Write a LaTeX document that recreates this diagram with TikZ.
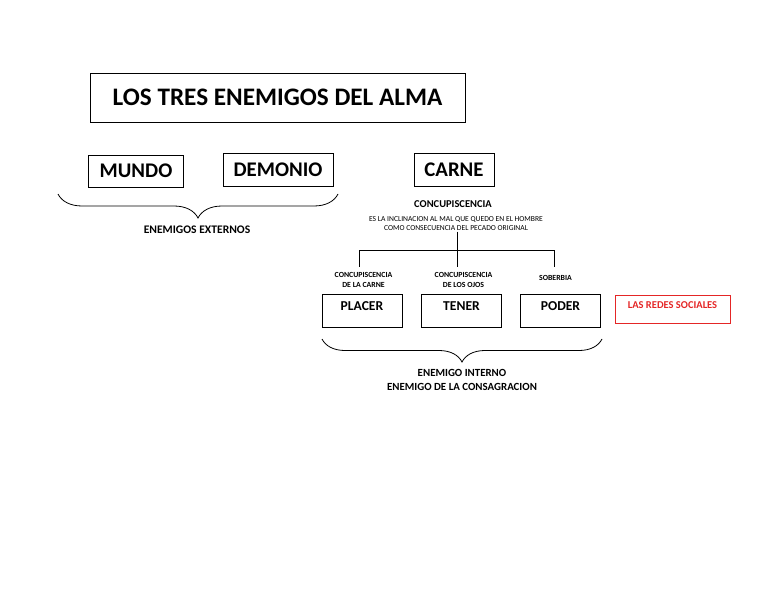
\documentclass[tikz,border=0pt]{standalone}
\usepackage{fontspec}
\setmainfont{Carlito}
\usetikzlibrary{positioning,decorations.pathreplacing}
\definecolor{redes}{RGB}{228,38,38}
\tikzstyle{titlebox}=[draw, line width=1pt, font=\bfseries\fontsize{25.2}{26}\selectfont]
\tikzstyle{enemy}=[draw, line width=1pt, font=\bfseries\fontsize{20.8}{21}\selectfont]
\tikzstyle{lowbox}=[draw, line width=1pt, minimum width=80, inner ysep=4, text height=12, text depth=13, font=\bfseries\fontsize{13.6}{14}\selectfont]
\tikzstyle{redbox}=[draw=redes, line width=1pt, text=redes, minimum width=115, inner ysep=4, text height=9, text depth=11, font=\bfseries\fontsize{10.5}{11}\selectfont]
\tikzstyle{caption}=[align=center, font=\bfseries\fontsize{10.9}{13.5}\selectfont]
\tikzstyle{tiny}=[align=center, inner sep=1, font=\bfseries\fontsize{7.8}{10}\selectfont]
\tikzstyle{brace}=[decorate, decoration={brace, mirror}, line width=0.8pt]
\tikzstyle{tree}=[line width=0.9pt]

\begin{document}
\begin{tikzpicture}[x=1pt, y=-1pt]
  \useasboundingbox (0,0) rectangle (768,594);
  % title
  \node[titlebox, minimum width=375, minimum height=49] (title) at (277.5,97.5) {LOS TRES ENEMIGOS DEL ALMA};
  % the three enemies
  \node[enemy, minimum width=95, minimum height=32] (mundo) at (136,171) {MUNDO};
  \node[enemy, minimum width=110, minimum height=33] (demonio) at (278,170) {DEMONIO};
  \node[enemy, minimum width=80, minimum height=33] (carne) at (454,169.5) {CARNE};
  % external enemies
  \coordinate (extL) at (58,194);
  \coordinate (extR) at (338,194);
  \draw[brace, decoration={amplitude=24}] (extL) -- (extR);
  \node[caption, font=\bfseries\fontsize{11.6}{13}\selectfont] (externos) at (197,230) {ENEMIGOS EXTERNOS};
  % flesh
  \node[caption, font=\bfseries\fontsize{10.5}{12}\selectfont] (concup) at (453,204) {CONCUPISCENCIA};
  \node[align=center, inner sep=1, font=\fontsize{7.6}{9}\selectfont] (def) at (456,223.5)
    {ES LA INCLINACION AL MAL QUE QUEDO EN EL HOMBRE\\COMO CONSECUENCIA DEL PECADO ORIGINAL};
  \coordinate (fork) at (457,250);
  \coordinate (forkL) at (359,250);
  \coordinate (forkR) at (554,250);
  \coordinate (dropL) at (359,267);
  \coordinate (dropM) at (457,267);
  \coordinate (dropR) at (554,267);
  \draw[tree] (def.south -| fork) -- (fork);
  \draw[tree] (forkL) -- (forkR);
  \draw[tree] (forkL) -- (dropL);
  \draw[tree] (fork) -- (dropM);
  \draw[tree] (forkR) -- (dropR);
  \node[tiny] (lblcarne) at (363.5,280) {CONCUPISCENCIA\\DE LA CARNE};
  \node[tiny] (lblojos) at (463.5,280) {CONCUPISCENCIA\\DE LOS OJOS};
  \node[tiny] (lblsob) at (555.5,278) {SOBERBIA};
  \node[lowbox] (placer) at (362,310.5) {PLACER};
  \node[lowbox] (tener) at (461.5,310.5) {TENER};
  \node[lowbox] (poder) at (560.5,310.5) {PODER};
  \node[redbox] (redes) at (672.5,309.5) {LAS REDES SOCIALES};
  % internal enemy
  \coordinate (intL) at (322,339);
  \coordinate (intR) at (602,339);
  \draw[brace, decoration={amplitude=23}] (intL) -- (intR);
  \node[caption] (interno) at (462,380) {ENEMIGO INTERNO\\ENEMIGO DE LA CONSAGRACION};
\end{tikzpicture}
\end{document}
